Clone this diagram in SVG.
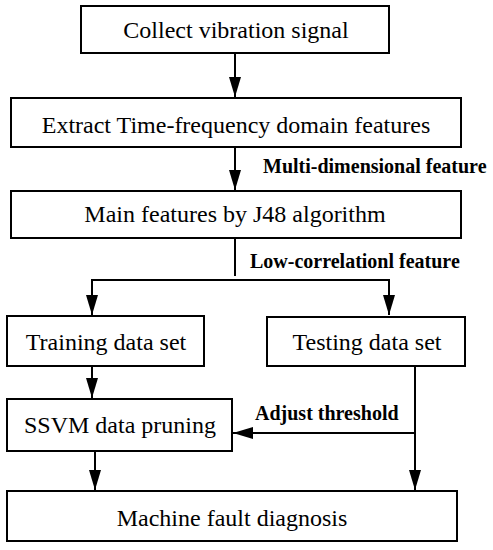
<svg xmlns="http://www.w3.org/2000/svg" width="493" height="550" viewBox="0 0 493 550">
<defs>
<style>
.box{fill:#fff;stroke:#000;stroke-width:2}
.t{font-family:"Liberation Serif","Times New Roman",serif;font-size:24px;fill:#000;text-anchor:middle}
.lb{font-family:"Liberation Serif","Times New Roman",serif;font-size:20px;font-weight:bold;fill:#000}
.c{fill:none;stroke:#000;stroke-width:2}
</style>
<marker id="ah" viewBox="0 0 20 12" refX="20" refY="6" markerUnits="userSpaceOnUse" markerWidth="20" markerHeight="12" orient="auto">
<path d="M0,0 L20,6 L0,12 Z" fill="#000"/>
</marker>
</defs>
<rect width="493" height="550" fill="#fff"/>
<g id="connectors">
<path class="c" d="M235,53 V97" marker-end="url(#ah)"/>
<path class="c" d="M235,147 V190" marker-end="url(#ah)"/>
<path class="c" d="M235,238 V276"/>
<path class="c" d="M92,280 H389 V315" marker-end="url(#ah)"/>
<path class="c" d="M92,279 V315" marker-end="url(#ah)"/>
<path class="c" d="M92,366 V398" marker-end="url(#ah)"/>
<path class="c" d="M415,366 V490" marker-end="url(#ah)"/>
<path class="c" d="M415,433 H233" marker-end="url(#ah)"/>
<path class="c" d="M95,451 V490" marker-end="url(#ah)"/>
<text class="lb" x="263" y="173">Multi-dimensional feature</text>
<text class="lb" x="250" y="268">Low-correlationl feature</text>
<text class="lb" x="255" y="420">Adjust threshold</text>
</g>
<g id="n1"><rect class="box" x="81" y="6" width="308" height="47"/><text class="t" x="236" y="38">Collect vibration signal</text></g>
<g id="n2"><rect class="box" x="11" y="98" width="450" height="49"/><text class="t" x="236" y="133">Extract Time-frequency domain features</text></g>
<g id="n3"><rect class="box" x="11" y="191" width="450" height="47"/><text class="t" x="235" y="222">Main features by J48 algorithm</text></g>
<g id="n4"><rect class="box" x="7" y="316" width="197" height="50"/><text class="t" x="106" y="350">Training data set</text></g>
<g id="n5"><rect class="box" x="267" y="317" width="198" height="49"/><text class="t" x="367" y="350">Testing data set</text></g>
<g id="n6"><rect class="box" x="7" y="399" width="225" height="52"/><text class="t" x="120" y="433">SSVM data pruning</text></g>
<g id="n7"><rect class="box" x="7" y="491" width="450" height="50"/><text class="t" x="232" y="526">Machine fault diagnosis</text></g>
</svg>
